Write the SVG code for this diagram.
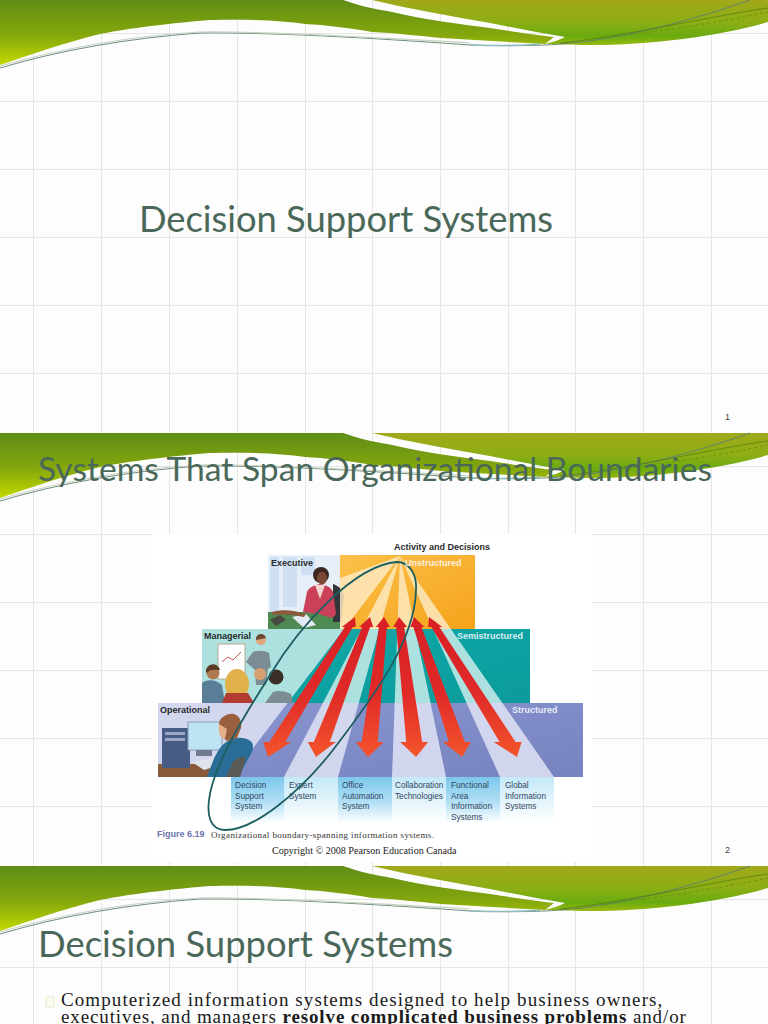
<svg xmlns="http://www.w3.org/2000/svg" width="768" height="1024" viewBox="0 0 768 1024">
<style>
.grid{stroke:#e6e6e6;stroke-width:1;fill:none}
.title{font-family:"Lato","Open Sans",sans-serif;fill:#4a6859}
.lab{font-family:"Liberation Sans",Arial,sans-serif;font-size:9px;font-weight:bold;fill:#2a2a2a}
.wl{font-family:"Liberation Sans",Arial,sans-serif;font-size:9px;font-weight:bold;fill:#fff;fill-opacity:.85}
.sys{font-family:"Liberation Sans",Arial,sans-serif;font-size:8.2px;fill:#2f4560}
.body{font-family:"Liberation Serif","Times New Roman",serif;font-size:19px;fill:#1a1a1a;letter-spacing:1.1px}
.pg{font-family:"Liberation Sans",Arial,sans-serif;font-size:9px;fill:#444}
</style>
<defs>
<filter id="soft" x="-2%" y="-2%" width="104%" height="104%"><feGaussianBlur stdDeviation="0.45"/></filter>
<linearGradient id="g1" gradientUnits="userSpaceOnUse" x1="0" y1="0" x2="0" y2="65"><stop offset="0" stop-color="#5f8d16"/><stop offset=".55" stop-color="#86a80c"/><stop offset="1" stop-color="#c3d900"/></linearGradient>
<linearGradient id="g2" x1="0" y1="0" x2="0" y2="1"><stop offset="0" stop-color="#a1a81a"/><stop offset=".5" stop-color="#8cae14"/><stop offset=".8" stop-color="#69ab10"/><stop offset="1" stop-color="#9ab80c"/></linearGradient>
<linearGradient id="or" x1="0" y1="0" x2="1" y2="1"><stop offset="0" stop-color="#fbc04a"/><stop offset="1" stop-color="#f6a31c"/></linearGradient>
<linearGradient id="te" x1="0" y1="0" x2="1" y2="1"><stop offset="0" stop-color="#15a9a8"/><stop offset="1" stop-color="#0b9b9c"/></linearGradient>
<linearGradient id="bl" x1="0" y1="0" x2="1" y2="1"><stop offset="0" stop-color="#8a96cf"/><stop offset="1" stop-color="#7683c0"/></linearGradient>
<linearGradient id="cell" x1="0" y1="0" x2="0" y2="1"><stop offset="0" stop-color="#7cc7ec"/><stop offset=".55" stop-color="#b2e0f5"/><stop offset="1" stop-color="#ffffff"/></linearGradient>
<linearGradient id="cell2" x1="0" y1="0" x2="0" y2="1"><stop offset="0" stop-color="#c5e8f8"/><stop offset="1" stop-color="#ffffff"/></linearGradient>
<linearGradient id="red" gradientUnits="userSpaceOnUse" x1="0" y1="617" x2="0" y2="757"><stop offset="0" stop-color="#d81f26"/><stop offset=".55" stop-color="#e02a28"/><stop offset="1" stop-color="#f4552c"/></linearGradient>
<clipPath id="cE"><rect x="340" y="555" width="135" height="74"/></clipPath>
<clipPath id="cM"><rect x="202" y="629" width="328" height="74"/></clipPath>
<clipPath id="cO"><rect x="158" y="703" width="425" height="74"/></clipPath>
<polygon id="rays" points="400,556 -200,777 231,777 400,556 284,777 338,777 400,556 392,777 446,777 400,556 500,777 554,777"/>
<g id="swoosh">
<path d="M0,0 H343 C360,6 375,9 392,12 C425,20 460,24 490,28 C510,31 535,35 554,37 L545,44 C510,42 475,40 441,38 C420,36 395,33 372,32 C350,28 325,25 305,24 C280,20 240,19 210,20 C160,24 120,30 100,34 C60,44 30,55 0,65 Z" fill="url(#g1)"/>
<path d="M372,0 H768 V22 C720,36 650,45 590,45 C570,45 555,44 545,44 C552,42 560,40 565,37 C540,33 515,28 490,23 C450,16 410,9 372,0 Z" fill="url(#g2)"/>
<path d="M0,68 C60,50 130,38 200,33 C280,32 400,40 470,45 C500,46 540,46 560,44 C620,40 700,18 750,0" fill="none" stroke="#5d7f70" stroke-width=".9"/>
<path d="M0,66 C60,49 130,36 200,32 C280,31 400,39 470,43" fill="none" stroke="#c8d2c0" stroke-width="1.2"/>
<path d="M560,43 C640,34 710,16 768,8" fill="none" stroke="#4f7a10" stroke-width=".7"/>
<path d="M600,38 C660,32 720,22 768,12" fill="none" stroke="#5a8a12" stroke-width=".7" stroke-dasharray="3 3"/>
<path d="M470,45 C500,46 520,46 540,44" fill="none" stroke="#8fbcbc" stroke-width="1.6"/>
</g>
</defs>

<rect width="768" height="1024" fill="#fdfdfd"/>
<g id="grid" class="grid">
<path d="M33.5,0V1024M101.5,0V1024M169.5,0V1024M237.5,0V1024M305.5,0V1024M372.5,0V1024M440.5,0V1024M508.5,0V1024M575.5,0V1024M643.5,0V1024M711.5,0V1024"/>
<path d="M0,33.5H768M0,101.5H768M0,169.5H768M0,237.5H768M0,305.5H768M0,373.5H768M0,466.5H768M0,534.5H768M0,602.5H768M0,670.5H768M0,738.5H768M0,806.5H768M0,899.5H768M0,967.5H768"/>
</g>

<g id="slide1">
<use href="#swoosh"/>
<text class="title" x="139" y="232" font-size="36" textLength="414" lengthAdjust="spacingAndGlyphs">Decision Support Systems</text>
<text class="pg" x="725" y="420">1</text>
</g>

<g id="slide2">
<use href="#swoosh" y="433"/>
<text class="title" x="38" y="481" font-size="33" textLength="674" lengthAdjust="spacingAndGlyphs">Systems That Span Organizational  Boundaries</text>
<text class="pg" x="725" y="853">2</text>

<rect id="figure" x="152" y="534" width="440" height="328" fill="#fff"/>

<g id="panels" filter="url(#soft)">
<g id="panel-executive">
<rect x="268" y="555" width="72" height="74" fill="#e6eef8"/>
<path d="M270,557h9v56h-9zM283,557h14v50h-14zM301,557h14v18h-14z" fill="#cfe0f4"/>
<rect x="340" y="555" width="135" height="74" fill="url(#or)"/>
<rect x="268" y="612" width="72" height="17" fill="#4f8a52"/>
<path d="M292,617l14,-3l10,11l-12,3z" fill="#e3eaf2"/>
<path d="M270,620l10,-5l6,5l-10,6z" fill="#4a4a40"/>
<path d="M272,612c10,-3 22,-2 34,2l-2,3c-12,-3 -22,-3 -32,-2z" fill="#8a5a3c"/>
<path d="M333,584c6,2 10,6 11,12l-3,26h-8z" fill="#33363a"/>
<path d="M303,612l4,-20c2,-5 8,-7 13,-8c6,1 11,3 13,8l3,22c-2,4 -6,4 -8,3l-9,-3l-9,-1z" fill="#c9425a"/>
<path d="M315,585l5,14l5,-14z" fill="#f3d7cf"/>
<circle cx="321" cy="575" r="8" fill="#3a2520"/>
<ellipse cx="322" cy="578" rx="5" ry="6.5" fill="#7a4a34"/>
<g clip-path="url(#cE)"><use href="#rays" fill="#fde9bf" fill-opacity=".85"/></g>
</g>

<g id="panel-managerial">
<rect x="202" y="629" width="328" height="74" fill="url(#te)"/>
<g clip-path="url(#cM)"><use href="#rays" fill="#bfe8e6" fill-opacity=".9"/></g>
<rect x="218" y="644" width="27" height="35" fill="#fff" stroke="#b7a890" stroke-width="1"/>
<path d="M222,662l6,-5l5,3l8,-8" fill="none" stroke="#c9504a" stroke-width="1"/>
<path d="M246,662l6,-9c2,-3 12,-3 17,0l2,14l-3,2l-2,16h-10l-1,-15z" fill="#7c8c94"/>
<circle cx="261" cy="640" r="5" fill="#e0a77c"/><path d="M256,640a5,5 0 0 1 10,-2z" fill="#6a4a30"/>
<ellipse cx="237" cy="684" rx="12" ry="15" fill="#e2b048"/>
<path d="M202,703v-20c4,-4 14,-4 20,2l3,18z" fill="#5a7e98"/>
<circle cx="213" cy="673" r="6.5" fill="#b07a54"/><path d="M206,673a7,7 0 0 1 14,-3l-9,0z" fill="#5a3a28"/>
<path d="M222,703l4,-10h22l6,10z" fill="#b23a30"/>
<circle cx="260" cy="674" r="6" fill="#d8a070"/>
<path d="M265,703l8,-11c5,-2 12,-1 18,2l2,9z" fill="#7c8c94"/>
<circle cx="276" cy="677" r="7.5" fill="#3a2e28"/>
</g>

<g id="panel-operational">
<rect x="158" y="703" width="425" height="74" fill="url(#bl)"/>
<g clip-path="url(#cO)"><use href="#rays" fill="#d6daf0" fill-opacity=".95"/></g>
<rect x="158" y="764" width="62" height="13" fill="#8b5a3c"/>
<rect x="162" y="728" width="28" height="40" fill="#465c84"/>
<rect x="165" y="732" width="20" height="3" fill="#9aa6c4"/><rect x="165" y="738" width="20" height="3" fill="#9aa6c4"/>
<rect x="188" y="722" width="34" height="28" fill="#bde4f4" stroke="#8d98ac"/>
<rect x="196" y="750" width="16" height="6" fill="#6f7a8f"/>
<path d="M192,762l20,-4l8,7l-16,5z" fill="#dfe4ea"/>
<path d="M207,777c5,-14 10,-28 18,-34c6,-5 16,-7 24,-3c6,3 4,10 2,14l-13,23z" fill="#2c6e98"/>
<path d="M226,777l7,-15c4,-5 10,-6 13,-4l-6,19z" fill="#5a5a54"/>
<path d="M219,724c0,-6 8,-11 15,-10c6,2 8,8 7,14l-4,10l-10,3l-6,-5z" fill="#9a5f3e"/>
<path d="M219,724c-1,4 0,10 2,13l4,2l2,-10z" fill="#e3b08a"/>
</g>

<g id="cells">
<rect x="231" y="777" width="53.5" height="46" fill="url(#cell)"/>
<rect x="284.5" y="777" width="53.5" height="46" fill="url(#cell2)"/>
<rect x="338" y="777" width="54" height="46" fill="url(#cell)"/>
<rect x="392" y="777" width="54" height="46" fill="url(#cell2)"/>
<rect x="446" y="777" width="54" height="46" fill="url(#cell)"/>
<rect x="500" y="777" width="54" height="46" fill="url(#cell2)"/>
</g>
</g>

<g id="cell-labels">
<text class="sys"><tspan x="235" y="788">Decision</tspan><tspan x="235" y="799">Support</tspan><tspan x="235" y="809">System</tspan></text>
<text class="sys"><tspan x="289" y="788">Expert</tspan><tspan x="289" y="799">System</tspan></text>
<text class="sys"><tspan x="342" y="788">Office</tspan><tspan x="342" y="799">Automation</tspan><tspan x="342" y="809">System</tspan></text>
<text class="sys"><tspan x="395" y="788">Collaboration</tspan><tspan x="395" y="799">Technologies</tspan></text>
<text class="sys"><tspan x="451" y="788">Functional</tspan><tspan x="451" y="799">Area</tspan><tspan x="451" y="809">Information</tspan><tspan x="451" y="820">Systems</tspan></text>
<text class="sys"><tspan x="505" y="788">Global</tspan><tspan x="505" y="799">Information</tspan><tspan x="505" y="809">Systems</tspan></text>
</g>

<g id="connectors" fill="url(#red)">
<polygon points="355,617 355.8,627 352.8,627 285.3,742 291.3,742 268,757 263.3,742 269.3,742 344.8,627 341.8,627"/>
<polygon points="370,617 373.1,627 370.1,627 329.8,742 335.8,742 316,757 307.8,742 313.8,742 362.1,627 359.1,627"/>
<polygon points="384,617 389.9,627 386.9,627 377.7,742 383.7,742 368,757 355.7,742 361.7,742 378.9,627 375.9,627"/>
<polygon points="399,617 407.2,627 404.2,627 422.2,742 428.2,742 416,757 400.2,742 406.2,742 396.2,627 393.2,627"/>
<polygon points="414,617 424.4,627 421.4,627 464.9,742 470.9,742 462,757 442.9,742 448.9,742 413.4,627 410.4,627"/>
<polygon points="429,617 442.3,627 439.3,627 515.6,742 521.6,742 517,757 493.6,742 499.6,742 431.3,627 428.3,627"/>
<path d="M397,562C410,562 417,575 416,590C415,640 375,695 333,750C300,792 255,830 225,830C210,830 207,815 209,800C213,765 245,715 270,675C300,625 355,565 397,562Z" fill="none" stroke="#1d5e60" stroke-width="1.8"/>
</g>

<g id="figure-labels">
<text class="lab" x="394" y="550">Activity and Decisions</text>
<text class="lab" x="271" y="566">Executive</text>
<text class="lab" x="204" y="639">Managerial</text>
<text class="lab" x="160" y="713">Operational</text>
<text class="wl" x="405" y="566">Unstructured</text>
<text class="wl" x="457" y="639">Semistructured</text>
<text class="wl" x="512" y="713">Structured</text>
<text x="157" y="837" font-family="Liberation Sans,Arial,sans-serif" font-size="9" font-weight="bold" fill="#6f74ad">Figure 6.19</text>
<text x="211" y="838" font-family="Liberation Serif,serif" font-size="9" fill="#333" textLength="223">Organizational boundary-spanning information systems.</text>
<text x="272" y="854" font-family="Liberation Serif,serif" font-size="10.1" fill="#222">Copyright © 2008 Pearson Education Canada</text>
</g>
</g>

<g id="slide3">
<use href="#swoosh" y="866"/>
<text class="title" x="38" y="957" font-size="36" textLength="415" lengthAdjust="spacingAndGlyphs">Decision Support Systems</text>
<rect x="46" y="997" width="8" height="10" fill="#fbfcf0" stroke="#e6ebc8" stroke-width="1"/>
<text class="body" x="61" y="1006">Computerized information systems designed to help business owners,</text>
<text class="body" x="61" y="1023" style="letter-spacing:.88px">executives, and managers <tspan font-weight="bold">resolve complicated business problems</tspan> and/or</text>
</g>
</svg>
